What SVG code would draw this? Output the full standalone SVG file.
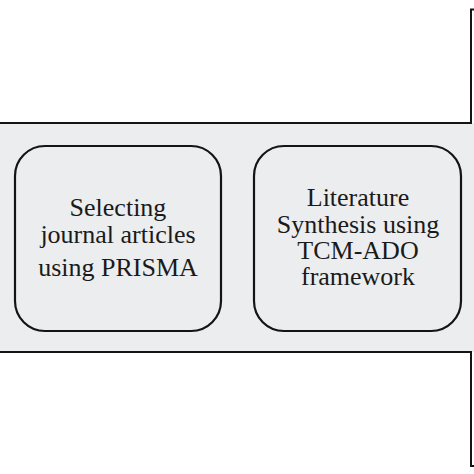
<svg xmlns="http://www.w3.org/2000/svg" width="474" height="474" viewBox="0 0 474 474">
<style>
.conn{fill:none;stroke:#141414;stroke-width:2}
.box{fill:#ecedef;stroke:#141414;stroke-width:2.2}
.lbl{font-family:"Liberation Serif","Times New Roman",serif;font-size:26px;fill:#1a1a1a;text-anchor:middle}
</style>
<rect x="0" y="0" width="474" height="474" fill="#ffffff"/>
<rect x="0" y="123" width="474" height="229" fill="#ecedef"/>
<g id="connectors">
<path class="conn" d="M474,9.5 H471 V123 H0"/>
<path class="conn" d="M0,352 H471 V466 H474"/>
</g>
<g id="node1">
<rect class="box" x="15" y="146" width="206" height="185" rx="30" ry="30"/>
<text class="lbl" x="118" y="216">Selecting</text>
<text class="lbl" x="118" y="243">journal articles</text>
<text class="lbl" x="118" y="276">using PRISMA</text>
</g>
<g id="node2">
<rect class="box" x="254" y="146" width="207" height="185" rx="30" ry="30"/>
<text class="lbl" x="358" y="206">Literature</text>
<text class="lbl" x="358" y="233">Synthesis using</text>
<text class="lbl" x="358" y="259">TCM-ADO</text>
<text class="lbl" x="358" y="285">framework</text>
</g>
</svg>
